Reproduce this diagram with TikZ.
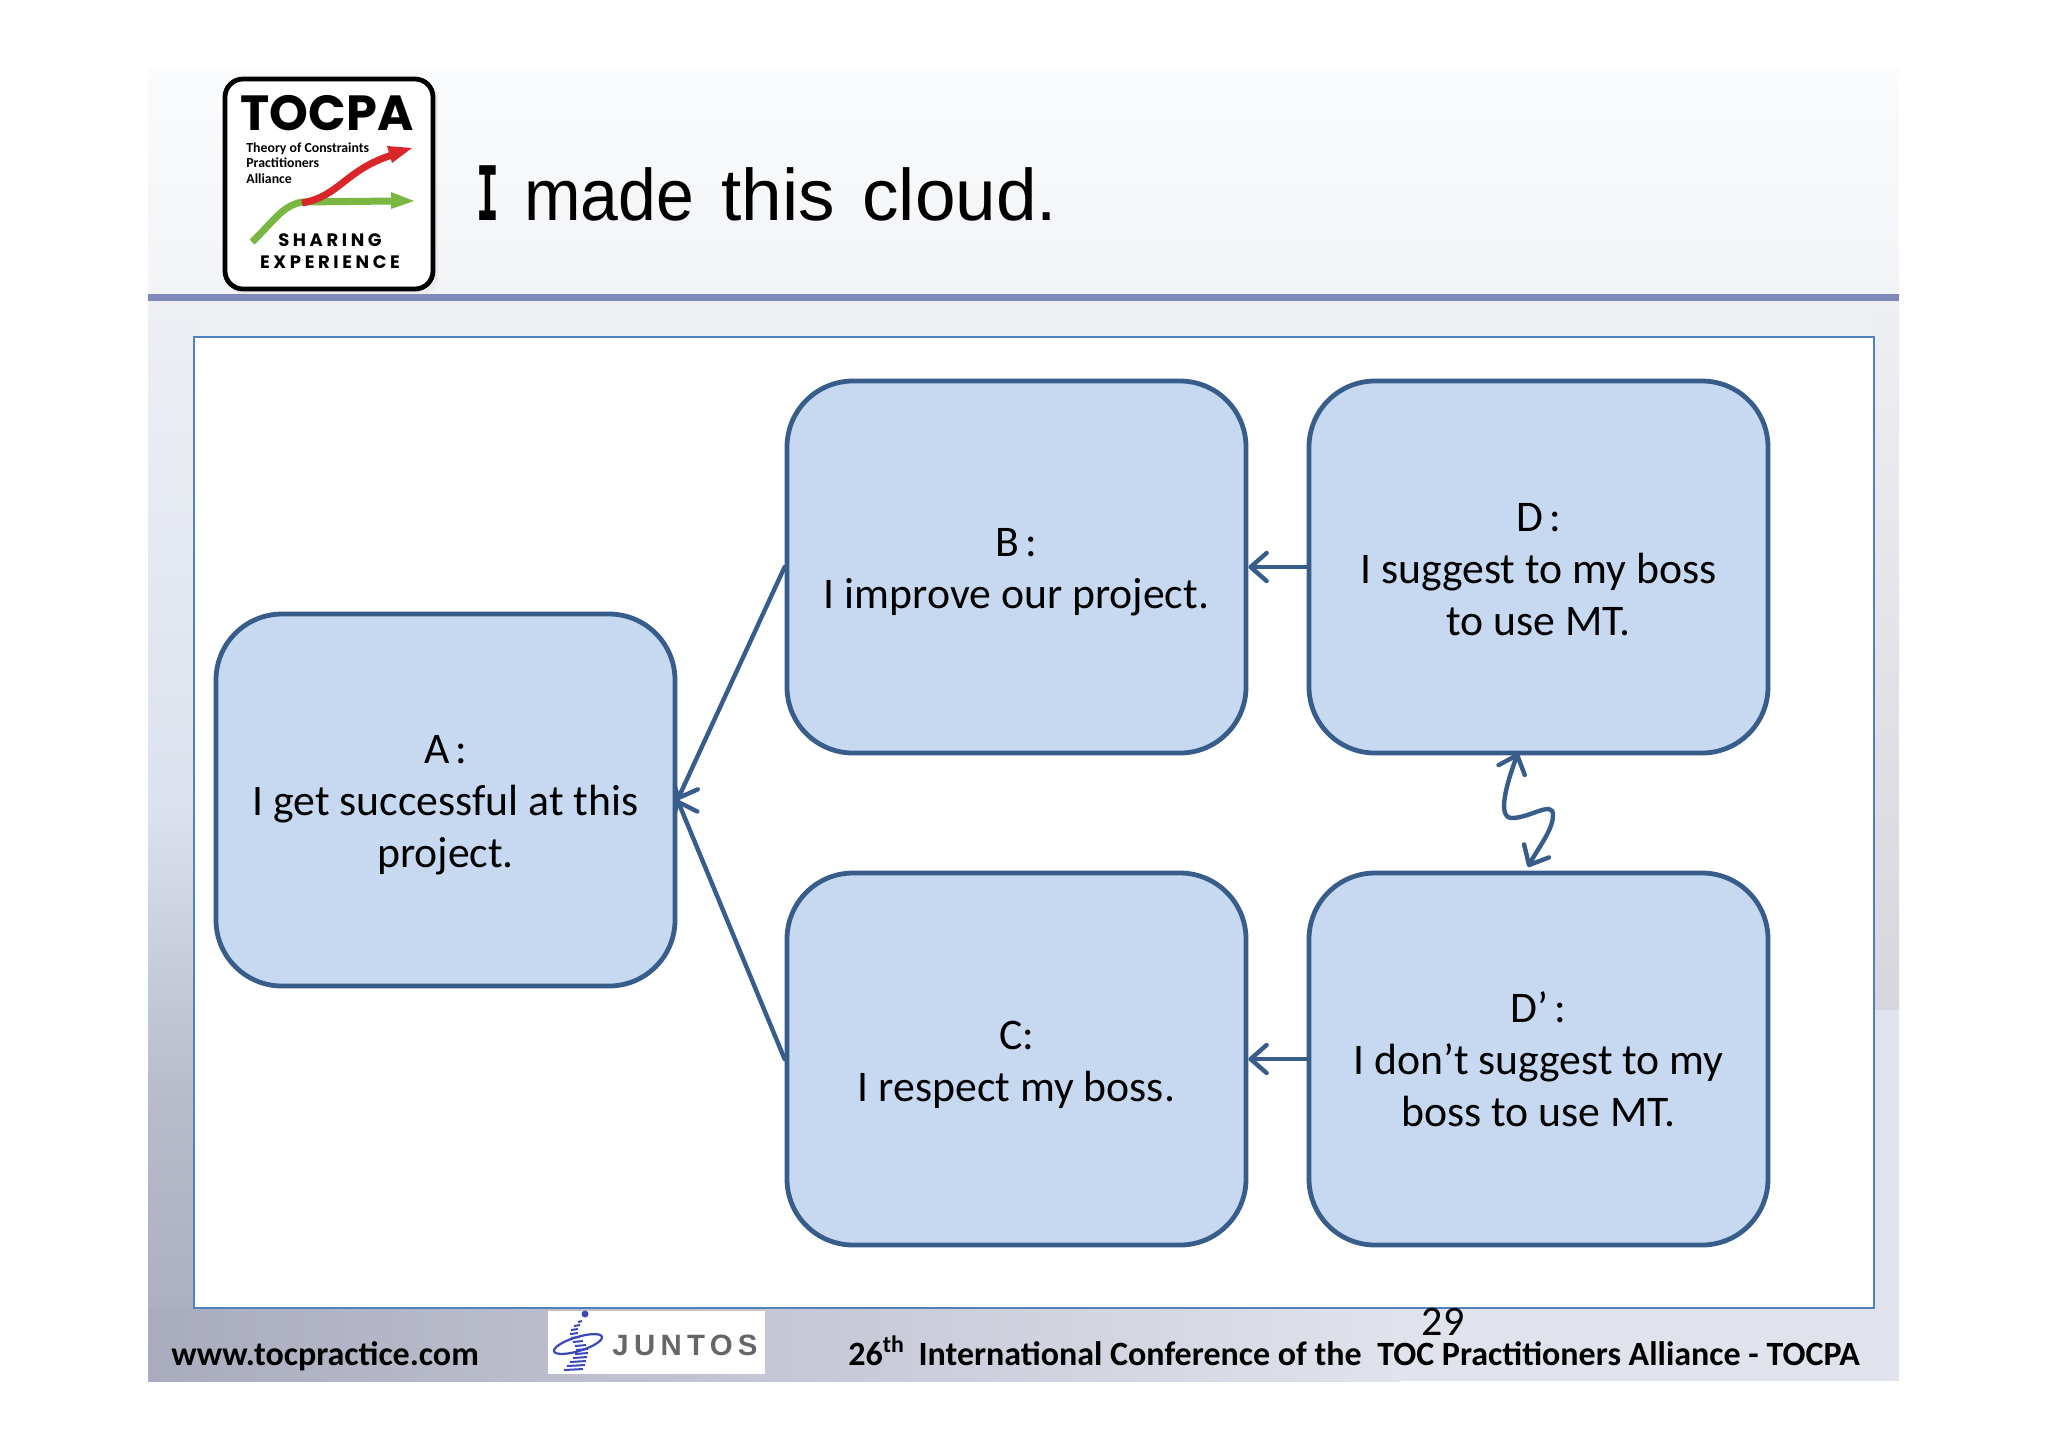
\documentclass[tikz,border=0pt]{standalone}
\usepackage{fontspec}
\setmainfont{Carlito}
\newfontfamily\titlefont{Liberation Sans}
\newfontfamily\titlemono{DejaVu Sans Mono}
\newfontfamily\logofont{Poppins}
\usetikzlibrary{arrows.meta,backgrounds}
\definecolor{boxfill}{HTML}{C6D9F1}
\definecolor{boxline}{HTML}{385D8A}
\definecolor{panelline}{HTML}{4F81BD}
\definecolor{bandcol}{HTML}{7E88B9}
\definecolor{logored}{HTML}{D9262B}
\definecolor{loggreen}{HTML}{7AB642}
\definecolor{slidetop}{HTML}{FAFBFC}
\definecolor{slidemid}{HTML}{F2F4F7}
\definecolor{slidelow}{HTML}{EDEFF3}
\definecolor{leftsoft}{HTML}{DCE2EE}
\definecolor{leftmid}{HTML}{B7BBCA}
\definecolor{leftdark}{HTML}{A9ACBD}
\definecolor{footmid}{HTML}{C8CAD8}
\definecolor{footlight}{HTML}{E0E3EB}
\definecolor{rightdark}{HTML}{D5D7DC}
\definecolor{juntosblue}{HTML}{3A48B8}
\tikzstyle{cloudbox} = [draw=boxline, fill=boxfill, line width=2.4pt, rounded corners=33pt, minimum width=229.5pt, minimum height=186pt, inner sep=0pt, align=center, font=\fontsize{21.85}{26}\selectfont]
\tikzstyle{cloudarrow} = [draw=boxline, line width=2.2pt, line cap=round, -{Straight Barb[length=8pt,width=14pt,round]}]
\tikzstyle{footer} = [inner sep=0pt, anchor=base west, font=\fontsize{17}{20}\selectfont\bfseries]

\begin{document}
\begin{tikzpicture}[x=.5pt,y=-.5pt]
    \useasboundingbox (0,0) rectangle (2048,1448);
    % slide background
    \begin{scope}[on background layer]
    \fill[white] (0,0) rectangle (2048,1448);
    \fill[top color=slidetop, bottom color=slidemid] (148,68) rectangle (1899,294);
    \fill[slidelow] (148,301) rectangle (1899,900);
    \fill[top color=slidelow, bottom color=leftsoft] (148,301) rectangle (194,800);
    \fill[top color=leftsoft, bottom color=leftmid] (148,800) rectangle (194,1100);
    \fill[top color=leftmid, bottom color=leftdark] (148,1100) rectangle (194,1381);
    \fill[top color=slidelow, bottom color=rightdark] (1874,301) rectangle (1899,1010);
    \fill[footlight] (1874,1010) rectangle (1899,1381);
    \fill[left color=leftdark, right color=footmid] (148,1308) rectangle (850,1381);
    \fill[left color=footmid, right color=footlight] (850,1308) rectangle (1400,1381);
    \fill[footlight] (1400,1308) rectangle (1899,1381);
    \fill[bandcol] (148,294) rectangle (1899,301);
    \draw[panelline, fill=white, line width=.7pt] (194,337) rectangle (1874,1308);
    \end{scope}

    % logo
    \fill[black!8, rounded corners=8pt] (230,84) rectangle (438,294);
    \draw[black, fill=white, line width=2.4pt, rounded corners=9pt] (225,79) rectangle (433,289);
    \node[inner sep=0pt, font=\logofont\fontsize{24.7}{24}\selectfont\bfseries] (logoname) at (327,113) {TOCPA};
    \node[inner sep=0pt, anchor=north west, align=left, font=\fontsize{6.9}{7.8}\selectfont\bfseries] (logosub) at (246,142) {Theory of Constraints\\Practitioners\\Alliance};
    \node[inner sep=0pt, align=center, font=\logofont\fontsize{9}{10.7}\selectfont\bfseries] (logotag) at (330,251) {\addfontfeature{LetterSpace=20}SHARING\\\addfontfeature{LetterSpace=20}EXPERIENCE};
    \draw[loggreen, line width=3.5pt] (252,242) .. controls (275,220) and (282,206) .. (302,202) -- (392,201);
    \fill[loggreen] (391,192) -- (414,201) -- (391,209) -- cycle;
    \draw[logored, line width=3.5pt] (302,203) .. controls (340,196) and (345,170) .. (392,155);
    \fill[logored] (387,146) -- (412,148) -- (392,163) -- cycle;

    % title
    \node[inner sep=0pt, anchor=base west, font=\fontsize{36.5}{40}\selectfont] (title) at (476,220) {{\titlemono\bfseries\scalebox{.52}[1.03]{I}}\hspace{12.5pt}\titlefont\scalebox{.93}[1]{made}\hspace{13.7pt}this\hspace{13.7pt}cloud.};

    % cloud
    \draw (445.5,800) node[cloudbox] (a) {\rule{0pt}{19.5pt}A\hspace{3pt}:\\I get successful at this\\project.};
    \draw (1016.5,567) node[cloudbox] (b) {\rule{0pt}{19.5pt}B\hspace{3pt}:\\I improve our project.};
    \draw (1016.5,1059) node[cloudbox] (c) {\rule{0pt}{19.5pt}C:\\I respect my boss.};
    \draw (1538.5,567) node[cloudbox] (d) {\rule{0pt}{17pt}D\hspace{3pt}:\\I suggest to my boss\\to use MT.};
    \draw (1538.5,1059) node[cloudbox] (dd) {D’\hspace{3pt}:\\I don’t suggest to my\\boss to use MT.};
    \begin{scope}[on background layer]
    \draw [cloudarrow] (b.west) -- (a.east);
    \draw [cloudarrow] (c.west) -- (a.east);
    \draw [cloudarrow] (d.west) -- (b.east);
    \draw [cloudarrow] (dd.west) -- (c.east);
    \coordinate (dtip) at (1518,753);
    \coordinate (ddtip) at (1528,867);
    \draw [cloudarrow, {Straight Barb[length=8pt,width=14pt,round]}-{Straight Barb[length=8pt,width=14pt,round]}] (dtip) .. controls (1506,785) and (1497,818) .. (1512,818) .. controls (1530,818) and (1553,800) .. (1553,815) .. controls (1553,830) and (1538,848) .. (ddtip);
    \end{scope}

    % footer
    \node[footer] (site) at (171,1365) {www.tocpractice.com};
    \fill[white] (548,1311) rectangle (765,1374);
    \fill[juntosblue] (585,1314) circle (3.5);
    \foreach \yy/\xl/\xr in {1322/578/582,1326/574/580,1330/571/578,1334/570/578,1338/571/580,1342/573/583,1346/575/586,1350/576/588,1354/575/588,1358/573/587,1362/570/586,1366/567/585,1370/564/583}
        \draw[juntosblue, line width=1pt] (\xl,\yy) -- (\xr,\yy-1);
    \draw[juntosblue, line width=1.1pt] (578,1344) ellipse [x radius=25, y radius=7, rotate=17];
    \node[inner sep=0pt, anchor=base west, text=black!60, font=\titlefont\fontsize{14.7}{15}\selectfont\bfseries] (juntos) at (612,1355) {\addfontfeature{LetterSpace=18}JUNTOS};
    \node[inner sep=0pt, font=\fontsize{21}{22}\selectfont] (pagenum) at (1443,1322) {29};
    \node[footer] (conf) at (848,1365) {26\textsuperscript{th}\hspace{3pt} International Conference of the\hspace{4pt} TOC Practitioners Alliance - TOCPA};
\end{tikzpicture}
\end{document}
